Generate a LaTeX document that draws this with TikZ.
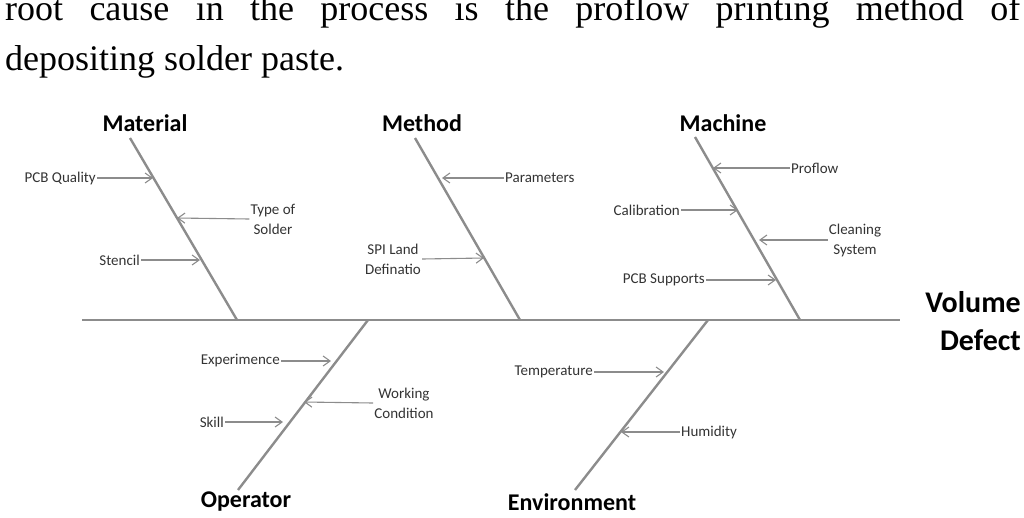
\documentclass[tikz,border=0pt]{standalone}
\usepackage{fontspec}
\setmainfont{Carlito}
\newfontfamily\bodyfont{Liberation Serif}
\usetikzlibrary{arrows.meta}
\begin{document}
\begin{tikzpicture}[x=1pt,y=-1pt,
  bone/.style={draw=gray!90,line width=2.4pt},
  cause/.style={draw=gray!90,line width=1.1pt,-{Straight Barb[length=7pt,width=10pt]}},
  lbl/.style={font=\fontsize{15}{20}\selectfont,text=black!80,inner sep=1pt,align=center},
  head/.style={font=\fontsize{24}{28}\selectfont\bfseries,inner sep=0pt}]
  \useasboundingbox (0,0) rectangle (1024,517);
  \clip (0,0) rectangle (1024,517);
  % text above the figure
  \node[anchor=base west,inner sep=0pt,font=\bodyfont\fontsize{36}{40}\selectfont] (para1) at (5,20)
     {\makebox[1015pt][s]{root cause in the process is the proflow printing method of}};
  \node[anchor=base west,inner sep=0pt,font=\bodyfont\fontsize{36}{40}\selectfont] (para2) at (5,70)
     {depositing solder paste.};
  % spine and bones
   \coordinate (tail) at (82,320);
   \coordinate (head) at (900,320);
   \coordinate (Mat) at (237,320);
   \coordinate (Met) at (520,320);
   \coordinate (Mac) at (800,320);
   \coordinate (Ope) at (368,320);
   \coordinate (Env) at (708,320);
   \coordinate (MatT) at (130,138);
   \coordinate (MetT) at (415,138);
   \coordinate (MacT) at (695,137);
   \coordinate (OpeB) at (238,490);
   \coordinate (EnvB) at (575,490);
  \draw[bone] (tail) -- (head);
  \foreach \a/\b in {MatT/Mat,MetT/Met,MacT/Mac,OpeB/Ope,EnvB/Env}
    \draw[bone] (\a) -- (\b);
  % headings
  \node[head] (material) at (145,123) {Material};
  \node[head] (method) at (422,123) {Method};
  \node[head] (machine) at (723,123) {Machine};
  \node[head] (operator) at (246,502) {Operator};
  \node[head] (environment) at (572,502) {Environment};
  \node[font=\fontsize{30}{38}\selectfont\bfseries,align=right,anchor=east,inner sep=0pt] (effect) at (1021,321) {Volume\\Defect};
  % causes
  \node[lbl,anchor=east] (pcbq) at (97,178) {PCB Quality};
  \coordinate (pcbq-e) at (153,178);
  \node[lbl] (solder) at (273,219) {Type of\\Solder};
  \coordinate (solder-e) at (177,218);
  \node[lbl,anchor=east] (stencil) at (141,260) {Stencil};
  \coordinate (stencil-e) at (200,260);
  \node[lbl,anchor=west] (param) at (504,178) {Parameters};
  \coordinate (param-e) at (442,178);
  \node[lbl] (spi) at (393,259) {SPI Land\\Definatio};
  \coordinate (spi-e) at (484,258);
  \node[lbl,anchor=west] (proflow) at (790,168) {Proflow};
  \coordinate (proflow-e) at (713,168);
  \node[lbl,anchor=east] (calib) at (681,210) {Calibration};
  \coordinate (calib-e) at (738,210);
  \node[lbl] (clean) at (855,240) {Cleaning\\System};
  \coordinate (clean-e) at (759,240);
  \node[lbl,anchor=east] (supp) at (706,280) {PCB Supports};
  \coordinate (supp-e) at (776,280);
  \node[lbl,anchor=east] (exper) at (281,361) {Experimence};
  \coordinate (exper-e) at (331,361);
  \node[lbl] (work) at (404,403) {Working\\Condition};
  \coordinate (work-e) at (304,402);
  \node[lbl,anchor=east] (skill) at (225,422) {Skill};
  \coordinate (skill-e) at (283,422);
  \node[lbl,anchor=east] (temp) at (594,372) {Temperature};
  \coordinate (temp-e) at (664,372);
  \node[lbl,anchor=west] (humid) at (680,432) {Humidity};
  \coordinate (humid-e) at (621,432);
  \foreach \c in {pcbq,stencil,calib,supp,exper,skill,temp}
    \draw[cause] (\c.east) -- (\c-e);
  \foreach \c in {param,proflow,humid,solder,clean,work}
    \draw[cause] (\c.west) -- (\c-e);
  \draw[cause] (spi.east) -- (spi-e);
\end{tikzpicture}
\end{document}
